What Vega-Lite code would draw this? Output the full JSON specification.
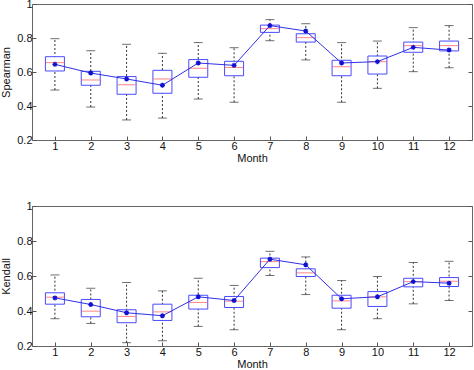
{
  "$schema": "https://vega.github.io/schema/vega-lite/v6.json",
  "padding": {"left": 0, "top": -3, "right": 0, "bottom": 0},
  "config": {
    "font": "Liberation Sans",
    "view": {"stroke": "#666", "strokeWidth": 1},
    "axis": {
      "grid": false, "domain": false, "tickSize": -4, "tickColor": "#555",
      "labelPadding": 4, "labelFontSize": 11, "labelColor": "#111",
      "titleFontSize": 11, "titleFontWeight": "normal", "titleColor": "#111"
    }
  },
  "datasets": {
    "spearman": [
      {"month": 1, "wlo": 0.494, "q1": 0.606, "med": 0.655, "q3": 0.690, "whi": 0.796, "mean": 0.645},
      {"month": 2, "wlo": 0.394, "q1": 0.522, "med": 0.553, "q3": 0.604, "whi": 0.725, "mean": 0.594},
      {"month": 3, "wlo": 0.318, "q1": 0.469, "med": 0.525, "q3": 0.573, "whi": 0.763, "mean": 0.559},
      {"month": 4, "wlo": 0.329, "q1": 0.475, "med": 0.559, "q3": 0.610, "whi": 0.710, "mean": 0.522},
      {"month": 5, "wlo": 0.441, "q1": 0.569, "med": 0.622, "q3": 0.673, "whi": 0.773, "mean": 0.653},
      {"month": 6, "wlo": 0.422, "q1": 0.578, "med": 0.627, "q3": 0.663, "whi": 0.743, "mean": 0.639},
      {"month": 7, "wlo": 0.784, "q1": 0.833, "med": 0.855, "q3": 0.876, "whi": 0.908, "mean": 0.873},
      {"month": 8, "wlo": 0.671, "q1": 0.776, "med": 0.802, "q3": 0.825, "whi": 0.884, "mean": 0.841},
      {"month": 9, "wlo": 0.422, "q1": 0.578, "med": 0.631, "q3": 0.669, "whi": 0.773, "mean": 0.653},
      {"month": 10, "wlo": 0.504, "q1": 0.588, "med": 0.661, "q3": 0.694, "whi": 0.782, "mean": 0.661},
      {"month": 11, "wlo": 0.602, "q1": 0.716, "med": 0.755, "q3": 0.776, "whi": 0.861, "mean": 0.745},
      {"month": 12, "wlo": 0.625, "q1": 0.724, "med": 0.755, "q3": 0.782, "whi": 0.873, "mean": 0.729}
    ],
    "kendall": [
      {"month": 1, "wlo": 0.356, "q1": 0.439, "med": 0.479, "q3": 0.504, "whi": 0.606, "mean": 0.475},
      {"month": 2, "wlo": 0.329, "q1": 0.367, "med": 0.399, "q3": 0.466, "whi": 0.530, "mean": 0.437},
      {"month": 3, "wlo": 0.219, "q1": 0.333, "med": 0.369, "q3": 0.407, "whi": 0.563, "mean": 0.390},
      {"month": 4, "wlo": 0.230, "q1": 0.346, "med": 0.395, "q3": 0.439, "whi": 0.515, "mean": 0.373},
      {"month": 5, "wlo": 0.312, "q1": 0.411, "med": 0.449, "q3": 0.490, "whi": 0.587, "mean": 0.481},
      {"month": 6, "wlo": 0.293, "q1": 0.420, "med": 0.456, "q3": 0.483, "whi": 0.546, "mean": 0.460},
      {"month": 7, "wlo": 0.603, "q1": 0.648, "med": 0.682, "q3": 0.702, "whi": 0.741, "mean": 0.696},
      {"month": 8, "wlo": 0.494, "q1": 0.597, "med": 0.618, "q3": 0.641, "whi": 0.709, "mean": 0.664},
      {"month": 9, "wlo": 0.293, "q1": 0.416, "med": 0.458, "q3": 0.490, "whi": 0.574, "mean": 0.470},
      {"month": 10, "wlo": 0.356, "q1": 0.426, "med": 0.481, "q3": 0.511, "whi": 0.597, "mean": 0.481},
      {"month": 11, "wlo": 0.441, "q1": 0.538, "med": 0.568, "q3": 0.587, "whi": 0.677, "mean": 0.568},
      {"month": 12, "wlo": 0.460, "q1": 0.540, "med": 0.570, "q3": 0.591, "whi": 0.684, "mean": 0.559}
    ]
  },
  "spacing": 35,
  "vconcat": [
    {
      "width": 440, "height": 136,
      "data": {"name": "spearman"},
      "encoding": {
        "x": {"field": "month", "type": "quantitative", "scale": {"domain": [0.5, 12.5], "nice": false, "zero": false},
              "axis": {"values": [1,2,3,4,5,6,7,8,9,10,11,12], "title": "Month", "titlePadding": 1}}
      },
      "layer": [
        {"mark": {"type": "rule", "color": "#333", "strokeDash": [2, 2], "strokeWidth": 1},
         "encoding": {"y": {"field": "wlo", "type": "quantitative", "scale": {"domain": [0.2, 1], "nice": false, "zero": false},
                            "axis": {"orient": "left", "values": [0.2,0.4,0.6,0.8,1], "format": "~g", "title": "Spearman", "titlePadding": 5}},
                      "y2": {"field": "whi"}}},
        {"mark": {"type": "tick", "orient": "horizontal", "color": "#333", "size": 9, "thickness": 1},
         "encoding": {"y": {"field": "whi", "type": "quantitative", "axis": null}}},
        {"mark": {"type": "tick", "orient": "horizontal", "color": "#333", "size": 9, "thickness": 1},
         "encoding": {"y": {"field": "wlo", "type": "quantitative", "axis": null}}},
        {"mark": {"type": "bar", "width": 19, "fill": "white", "stroke": "#4a4aff", "strokeWidth": 1},
         "encoding": {"y": {"field": "q1", "type": "quantitative", "axis": null}, "y2": {"field": "q3"}}},
        {"mark": {"type": "tick", "orient": "horizontal", "color": "#ff5050", "size": 18, "thickness": 1},
         "encoding": {"y": {"field": "med", "type": "quantitative", "axis": null}}},
        {"mark": {"type": "line", "color": "#3030e6", "strokeWidth": 1,
                  "point": {"shape": "M-1,0H1M0,-1V1M-0.7,-0.7L0.7,0.7M-0.7,0.7L0.7,-0.7", "filled": false, "stroke": "#1010d0", "strokeWidth": 1.3, "size": 25}},
         "encoding": {"y": {"field": "mean", "type": "quantitative", "axis": null}}},
        {"mark": {"type": "rule", "opacity": 0}, "encoding": {"y": {"field": "mean", "type": "quantitative", "axis": {"orient": "right", "values": [0.2,0.4,0.6,0.8,1], "labels": false, "title": null}}}}
      ],
      "resolve": {"axis": {"y": "independent"}}
    },
    {
      "width": 440, "height": 140,
      "data": {"name": "kendall"},
      "encoding": {
        "x": {"field": "month", "type": "quantitative", "scale": {"domain": [0.5, 12.5], "nice": false, "zero": false},
              "axis": {"values": [1,2,3,4,5,6,7,8,9,10,11,12], "title": "Month", "titlePadding": 1}}
      },
      "layer": [
        {"mark": {"type": "rule", "color": "#333", "strokeDash": [2, 2], "strokeWidth": 1},
         "encoding": {"y": {"field": "wlo", "type": "quantitative", "scale": {"domain": [0.2, 1], "nice": false, "zero": false},
                            "axis": {"orient": "left", "values": [0.2,0.4,0.6,0.8,1], "format": "~g", "title": "Kendall", "titlePadding": 5}},
                      "y2": {"field": "whi"}}},
        {"mark": {"type": "tick", "orient": "horizontal", "color": "#333", "size": 9, "thickness": 1},
         "encoding": {"y": {"field": "whi", "type": "quantitative", "axis": null}}},
        {"mark": {"type": "tick", "orient": "horizontal", "color": "#333", "size": 9, "thickness": 1},
         "encoding": {"y": {"field": "wlo", "type": "quantitative", "axis": null}}},
        {"mark": {"type": "bar", "width": 19, "fill": "white", "stroke": "#4a4aff", "strokeWidth": 1},
         "encoding": {"y": {"field": "q1", "type": "quantitative", "axis": null}, "y2": {"field": "q3"}}},
        {"mark": {"type": "tick", "orient": "horizontal", "color": "#ff5050", "size": 18, "thickness": 1},
         "encoding": {"y": {"field": "med", "type": "quantitative", "axis": null}}},
        {"mark": {"type": "line", "color": "#3030e6", "strokeWidth": 1,
                  "point": {"shape": "M-1,0H1M0,-1V1M-0.7,-0.7L0.7,0.7M-0.7,0.7L0.7,-0.7", "filled": false, "stroke": "#1010d0", "strokeWidth": 1.3, "size": 25}},
         "encoding": {"y": {"field": "mean", "type": "quantitative", "axis": null}}},
        {"mark": {"type": "rule", "opacity": 0}, "encoding": {"y": {"field": "mean", "type": "quantitative", "axis": {"orient": "right", "values": [0.2,0.4,0.6,0.8,1], "labels": false, "title": null}}}}
      ],
      "resolve": {"axis": {"y": "independent"}}
    }
  ]
}
